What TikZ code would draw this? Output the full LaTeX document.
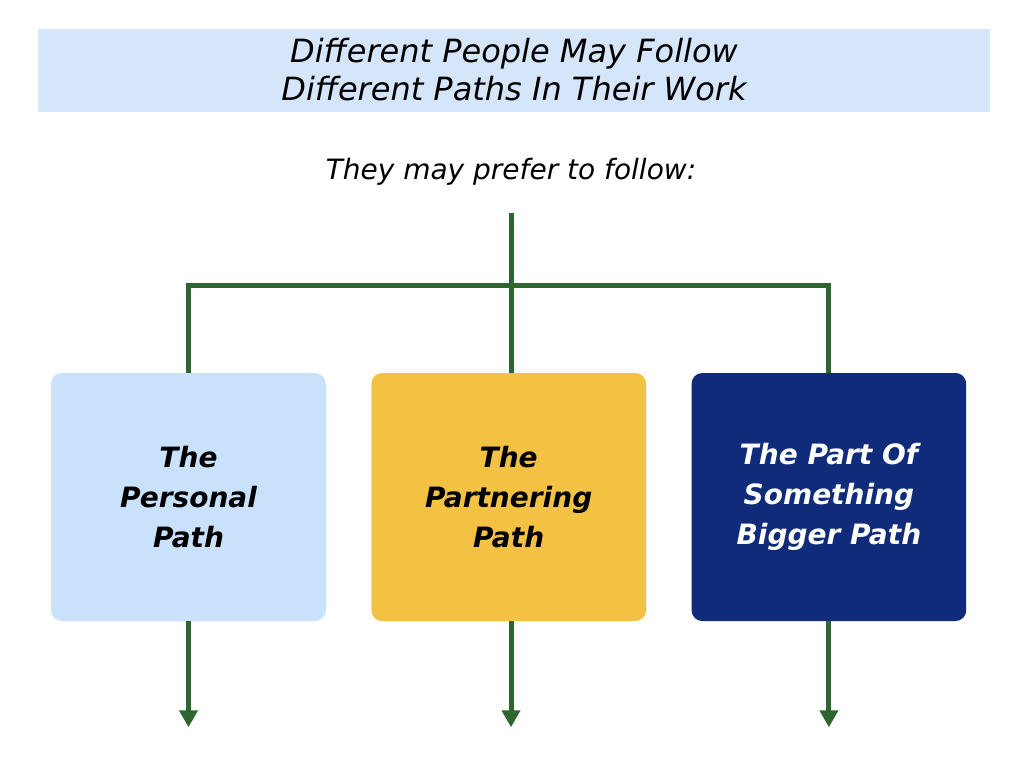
\documentclass[tikz,border=0pt]{standalone}
\usepackage{fontspec}
\setmainfont{DejaVu Sans}
\usepackage{xcolor}
\usetikzlibrary{positioning,arrows.meta,calc}

\definecolor{bannerblue}{HTML}{D6E6FA}
\definecolor{personalblue}{HTML}{C9E1FA}
\definecolor{partneryellow}{HTML}{F4C243}
\definecolor{biggernavy}{HTML}{0F2B7A}
\definecolor{pathgreen}{HTML}{2D6630}

\begin{document}
\begin{tikzpicture}[x=0.75pt, y=-0.75pt,
    >={Triangle[width=13.5pt, length=12.75pt]},
    pathbox/.style={rounded corners=8pt, minimum width=206pt, minimum height=186pt,
                    inner sep=0pt, align=center,
                    font=\fontsize{21}{30}\selectfont\bfseries\itshape},
    flow/.style={draw=pathgreen, line width=3.75pt}]
  \useasboundingbox (0,0) rectangle (1024,768);

  \node[fill=bannerblue, minimum width=714pt, minimum height=62.25pt, align=center,
        font=\fontsize{24}{28.5}\selectfont\itshape] (title) at (514,70)
        {Different People May Follow\\Different Paths In Their Work};
  \node[font=\fontsize{21}{24}\selectfont\itshape] (prefer) at (511,172)
        {They may prefer to follow:};

  \node[pathbox, fill=personalblue] (personal) at (188.5,497)
        {The\\Personal\\Path};
  \node[pathbox, fill=partneryellow, right=33.75pt of personal] (partnering)
        {The\\Partnering\\Path};
  \node[pathbox, fill=biggernavy, text=white, right=33.75pt of partnering] (bigger)
        {The Part Of\\Something\\Bigger Path};

  % stem and branching bar
  \coordinate (stem) at (511,213);
  \draw[flow] (stem) -- (stem |- partnering.north);
  \draw[flow] (personal.north) -- ($(personal.north)+(0,-87)$) -| (bigger.north);

  % paths continue downwards
  \coordinate[below=79.5pt of personal] (personalend);
  \coordinate (partneringend) at (stem |- personalend);
  \coordinate[below=79.5pt of bigger] (biggerend);
  \draw[flow, ->] (personal.south) -- (personalend);
  \draw[flow, ->] (partneringend |- partnering.south) -- (partneringend);
  \draw[flow, ->] (bigger.south) -- (biggerend);
\end{tikzpicture}
\end{document}
